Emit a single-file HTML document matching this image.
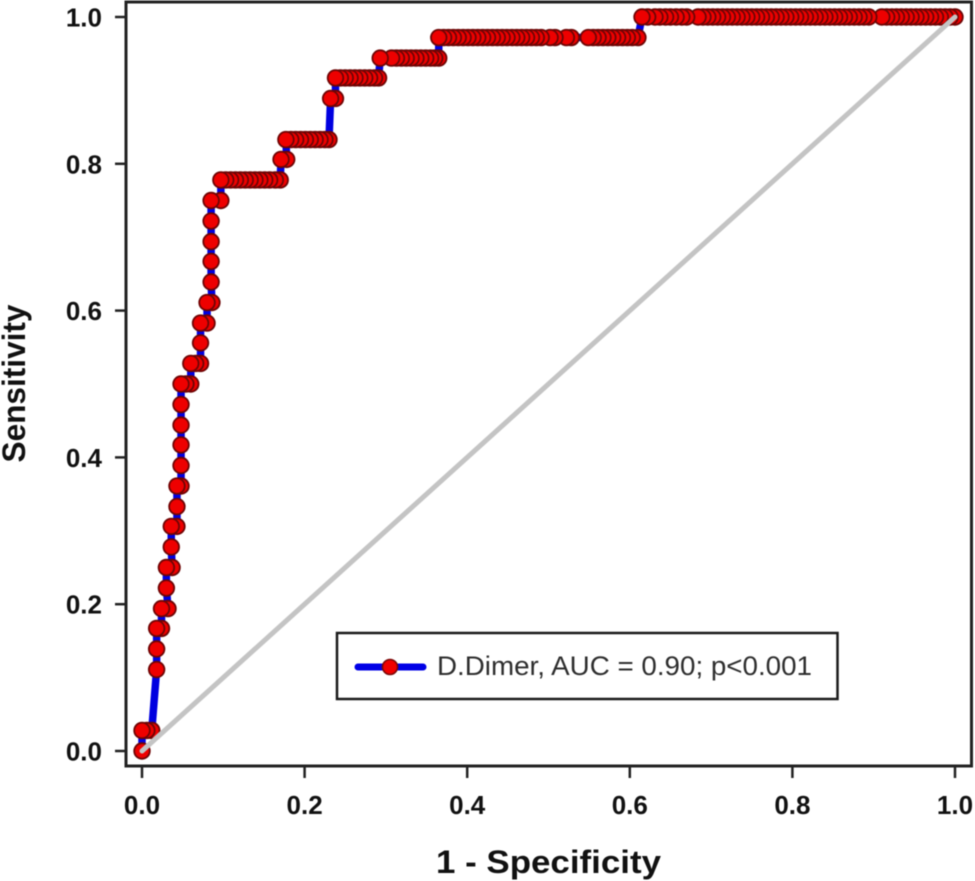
<!DOCTYPE html>
<html lang="en">
<head>
<meta charset="utf-8">
<title>ROC curve - D.Dimer</title>
<style>
  html, body { margin: 0; padding: 0; background: #fff; }
  svg { display: block; filter: blur(0.6px); }
  text { font-family: "Liberation Sans", Arial, sans-serif; fill: #111; }
  .tick-label { font-size: 26px; font-weight: bold; }
  .axis-title { font-size: 32px; font-weight: bold; }
</style>
</head>
<body>
<svg id="chart" width="975" height="881" viewBox="0 0 975 881" xmlns="http://www.w3.org/2000/svg">
  <g id="curve-layer"></g>
  <rect x="126" y="2" width="845.5" height="764" fill="none" stroke="#222" stroke-width="3"></rect>
  <g id="axis-layer"></g>
  <text class="axis-title" x="548.5" y="873" text-anchor="middle" textLength="225" lengthAdjust="spacingAndGlyphs">1 - Specificity</text>
  <text class="axis-title" transform="translate(25,383.5) rotate(-90)" text-anchor="middle" textLength="158" lengthAdjust="spacingAndGlyphs" style="font-size:32px">Sensitivity</text>
  <g>
    <rect x="337" y="633" width="500.5" height="66" fill="#fff" stroke="#1a1a1a" stroke-width="2.5"></rect>
    <line x1="358" y1="667" x2="423" y2="667" stroke="#0000e6" stroke-width="7" stroke-linecap="round"></line>
    <circle cx="390" cy="667" r="7.5" fill="#f00000" stroke="#7a0808" stroke-width="1.6"></circle>
    <text x="437" y="675" style="font-size:27px;fill:#2e2e2e" textLength="375" lengthAdjust="spacingAndGlyphs">D.Dimer, AUC = 0.90; p&lt;0.001</text>
  </g>
</svg>
<script>
const xTicks = ["0.0", "0.2", "0.4", "0.6", "0.8", "1.0"];
const yTicks = ["0.0", "0.2", "0.4", "0.6", "0.8", "1.0"];
const sensitivityLevels = [0, 0.028, 0.111, 0.139, 0.167, 0.194, 0.222, 0.25, 0.278, 0.306, 0.333, 0.361, 0.389, 0.417, 0.444, 0.472, 0.5, 0.528, 0.556, 0.583, 0.611, 0.639, 0.667, 0.694, 0.722, 0.75, 0.778, 0.806, 0.833, 0.889, 0.917, 0.944, 0.972, 1];
const falsePositiveRates = [
  [0],
  [0, 0.006, 0.012],
  [0.018],
  [0.018],
  [0.018, 0.024],
  [0.024, 0.032],
  [0.03],
  [0.03, 0.037],
  [0.036],
  [0.036, 0.043],
  [0.043],
  [0.043, 0.048],
  [0.048],
  [0.048],
  [0.048],
  [0.048],
  [0.048, 0.054, 0.06],
  [0.06, 0.066, 0.072],
  [0.072],
  [0.072, 0.08],
  [0.08, 0.086],
  [0.085],
  [0.085],
  [0.085],
  [0.085],
  [0.085, 0.097],
  [0.097, 0.103, 0.109, 0.115, 0.121, 0.127, 0.133, 0.139, 0.145, 0.151, 0.157, 0.164, 0.17],
  [0.171, 0.178],
  [0.177, 0.183, 0.189, 0.195, 0.201, 0.207, 0.213, 0.219, 0.225, 0.23],
  [0.232, 0.238],
  [0.238, 0.244, 0.25, 0.256, 0.262, 0.268, 0.274, 0.28, 0.286, 0.291],
  [0.293, 0.307, 0.313, 0.319, 0.325, 0.331, 0.337, 0.343, 0.349, 0.355, 0.36, 0.365],
  [0.365, 0.371, 0.377, 0.383, 0.389, 0.395, 0.401, 0.407, 0.413, 0.419, 0.425, 0.431, 0.437, 0.443, 0.449, 0.455, 0.461, 0.467, 0.473, 0.479, 0.485, 0.491, 0.502, 0.508, 0.522, 0.528, 0.549, 0.555, 0.561, 0.567, 0.573, 0.579, 0.585, 0.591, 0.597, 0.603, 0.61],
  [0.615, 0.622, 0.631, 0.637, 0.644, 0.65, 0.657, 0.664, 0.67, 0.684, 0.69, 0.696, 0.702, 0.708, 0.714, 0.72, 0.726, 0.732, 0.738, 0.744, 0.75, 0.756, 0.762, 0.768, 0.774, 0.78, 0.786, 0.792, 0.798, 0.804, 0.81, 0.816, 0.822, 0.828, 0.834, 0.84, 0.846, 0.852, 0.858, 0.864, 0.87, 0.876, 0.882, 0.888, 0.894, 0.91, 0.916, 0.922, 0.928, 0.934, 0.94, 0.946, 0.952, 0.958, 0.964, 0.97, 0.976, 0.982, 0.988, 0.994, 1]
];

const NS = "http://www.w3.org/2000/svg";
function xScale(v) { return 142 + v * 813; }
function yScale(v) { return 751 - v * 734; }

function make(tag, attrs, parent) {
  const el = document.createElementNS(NS, tag);
  for (const k in attrs) el.setAttribute(k, attrs[k]);
  parent.appendChild(el);
  return el;
}

const curveLayer = document.getElementById("curve-layer");
const axisLayer = document.getElementById("axis-layer");

// Flatten the levels into ordered points
const curvePoints = [];
sensitivityLevels.forEach(function (level, i) {
  falsePositiveRates[i].forEach(function (rate) {
    curvePoints.push([rate, level]);
  });
});

// Curve line
const curveLine = make("polyline", {
  points: curvePoints.map(function (p) { return xScale(p[0]) + "," + yScale(p[1]); }).join(" "),
  fill: "none",
  stroke: "#0000e0",
  "stroke-width": 7.5,
  "stroke-linejoin": "round"
}, curveLayer);



// Markers, last point first so the leftmost marker in a run sits on top
for (let i = curvePoints.length - 1; i >= 0; i--) {
  const marker = make("circle", {
    cx: xScale(curvePoints[i][0]),
    cy: yScale(curvePoints[i][1]),
    r: 7.8,
    fill: "#ee0000",
    stroke: "#6e0505",
    "stroke-width": 1.8
  }, curveLayer);
  
  
}

// Reference diagonal
const diagonal = make("line", {
  x1: xScale(0), y1: yScale(0), x2: xScale(1), y2: yScale(1),
  stroke: "#c4c4c4", "stroke-width": 5, "stroke-linecap": "round"
}, curveLayer);



// X axis ticks and labels
xTicks.forEach(function (label) {
  const x = xScale(parseFloat(label));
  const tick = make("line", { x1: x, y1: 766, x2: x, y2: 778, stroke: "#222", "stroke-width": 2.5 }, axisLayer);
  
  
  const text = make("text", { x: x, y: 814, "text-anchor": "middle", "class": "tick-label" }, axisLayer);
  
  
  text.textContent = label;
});

// Y axis ticks and labels
yTicks.forEach(function (label) {
  const y = yScale(parseFloat(label));
  const tick = make("line", { x1: 115, y1: y, x2: 126, y2: y, stroke: "#222", "stroke-width": 2.5 }, axisLayer);
  
  
  const text = make("text", { x: 102, y: y + 9.5, "text-anchor": "end", "class": "tick-label" }, axisLayer);
  
  
  text.textContent = label;
});
</script>
</body>
</html>
